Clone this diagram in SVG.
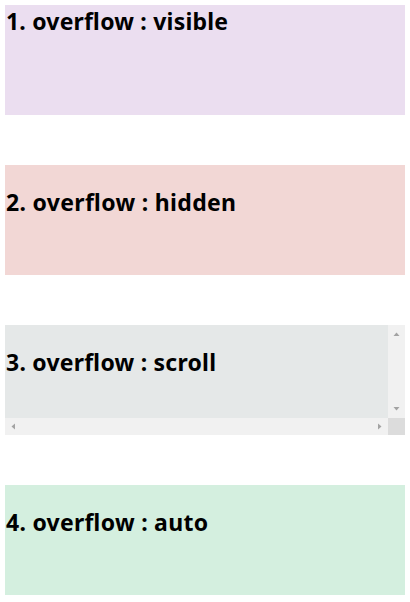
<svg xmlns="http://www.w3.org/2000/svg" width="410" height="602" viewBox="0 0 410 602">
<style>
.t{font-family:"Noto Sans","DejaVu Sans",sans-serif;font-weight:bold;font-size:23px;fill:#000}
.sb{fill:#f1f1f1}
.ar{fill:#a3a3a3}
</style>
<rect width="410" height="602" fill="#fff"/>
<g id="box1">
<rect x="5" y="5" width="400" height="110" fill="#EBDEF0"/>
<text class="t" x="6" y="30" textLength="222">1. overflow : visible</text>
</g>
<g id="box2">
<rect x="5" y="165" width="400" height="110" fill="#F2D7D5"/>
<text class="t" x="6" y="211" textLength="230">2. overflow : hidden</text>
</g>
<g id="box3">
<rect x="5" y="325" width="400" height="110" fill="#E5E8E8"/>
<rect class="sb" x="388" y="325" width="17" height="93"/>
<rect class="sb" x="5" y="418" width="383" height="17"/>
<rect x="388" y="418" width="17" height="17" fill="#dcdcdc"/>
<path class="ar" d="M393.5 336 L399.5 336 L396.5 332.5 Z"/>
<path class="ar" d="M393.5 407 L399.5 407 L396.5 410.5 Z"/>
<path class="ar" d="M15 423.5 L15 429.5 L11.5 426.5 Z"/>
<path class="ar" d="M378 423.5 L378 429.5 L381.5 426.5 Z"/>
<text class="t" x="6" y="371" textLength="210">3. overflow : scroll</text>
</g>
<g id="box4">
<rect x="5" y="485" width="400" height="110" fill="#D4EFDF"/>
<text class="t" x="6" y="531" textLength="202">4. overflow : auto</text>
</g>
</svg>
